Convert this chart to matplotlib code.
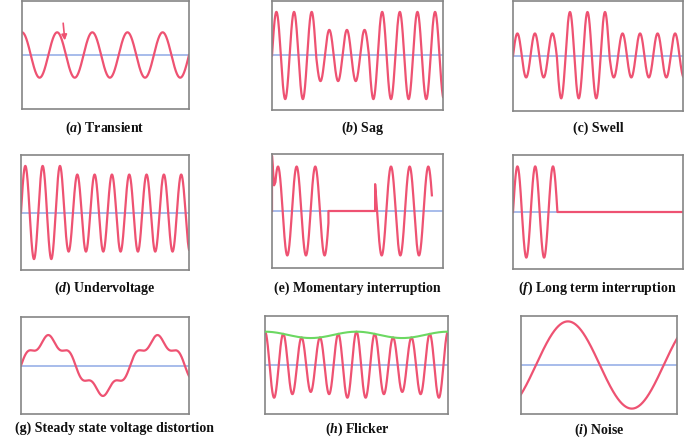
import numpy as np
import matplotlib
matplotlib.use('Agg')
import matplotlib.pyplot as plt

plt.rcParams['font.family'] = ['Liberation Serif', 'DejaVu Serif']
plt.rcParams['mathtext.fontset'] = 'custom'
plt.rcParams['mathtext.it'] = 'Liberation Serif:italic:bold'
plt.rcParams['mathtext.rm'] = 'Liberation Serif:bold'

# --- DATA (amplitudes relative to half box height) ---
panel_letters = ['a', 'b', 'c', 'd', 'e', 'f', 'g', 'h', 'i']
panel_names = ['Transient', 'Sag', 'Swell', 'Undervoltage', 'Momentary interruption',
               'Long term interruption', 'Steady state voltage distortion', 'Flicker', 'Noise']
letter_italic = [True, True, False, True, False, True, False, True, True]

# (a) transient
transient_cycles = 4.75
transient_amp = 0.42
transient_arrow_x = [0.245, 0.258]
transient_arrow_y = [0.64, 0.22]

# (b) sag, (c) swell, (d) undervoltage: amplitude of each half cycle
sag_cycles = 9.7
sag_half_amps = [0.8, 0.8, 0.8, 0.8, 0.8, 0.47, 0.47, 0.47, 0.47, 0.47, 0.47,
                 0.8, 0.8, 0.8, 0.8, 0.8, 0.8, 0.8, 0.8, 0.8]
swell_cycles = 9.7
swell_half_amps = [0.41, 0.39, 0.41, 0.39, 0.41, 0.77, 0.8, 0.77, 0.8, 0.77, 0.8,
                   0.39, 0.41, 0.39, 0.41, 0.39, 0.41, 0.39, 0.41, 0.39]
under_cycles = 9.7
under_half_amps = [0.81, 0.81, 0.81, 0.81, 0.81, 0.68, 0.66, 0.68, 0.66, 0.68,
                   0.66, 0.68, 0.66, 0.68, 0.66, 0.68, 0.66, 0.68, 0.66, 0.68]

# (e) momentary interruption
mom_period = 0.109
mom_amp = 0.78
mom_first_peak = 0.035
mom_spike_x = [0.0, 0.0, 0.012]
mom_spike_y = [0.0, 0.97, 0.45]
mom_off = 0.33
mom_on = 0.603
mom_second_peak = 0.696
mom_end = 0.935

# (f) long term interruption
long_period = 0.1045
long_amp = 0.8
long_cycles_on = 2.5

# (g) steady state distortion: harmonic order and amplitude
dist_period = 0.65
dist_orders = [1, 5]
dist_amps = [0.53, 0.098]

# (h) flicker
flick_cycles = 10
env_mean = 0.615
env_depth = 0.065
env_cycles = 2

# (i) noise
noise_period = 0.819
noise_amp = 0.89
noise_zero = 0.096

# --- LAYOUT (pixel boxes: x0, x1, y0, y1) and title centres ---
W, H = 685, 440
boxes = [(22, 189, 1, 109), (272, 443, 1, 110), (513, 683, 1, 111),
         (21, 189, 155, 270), (272, 443, 154, 268), (513, 683, 155, 269),
         (21, 189, 317, 414), (265, 448, 316, 414), (521, 677, 316, 414)]
title_pos = [(105, 128), (363, 128), (598, 128),
             (105, 288), (357, 288), (597, 288),
             (115, 428), (357, 429), (599, 430)]

RED = '#ee5272'
BLUE = '#8fa9e6'
GREEN = '#6cd862'
EDGE = '#858585'

fig = plt.figure(figsize=(W / 100, H / 100), dpi=100)
axes = []
for (x0, x1, y0, y1) in boxes:
    ax = fig.add_axes([x0 / W, 1 - y1 / H, (x1 - x0) / W, (y1 - y0) / H])
    ax.set_xlim(0, 1)
    ax.set_ylim(-1, 1)
    ax.set_xticks([])
    ax.set_yticks([])
    for s in ax.spines.values():
        s.set_color(EDGE)
        s.set_linewidth(1.2)
    ax.axhline(0, color=BLUE, lw=1.1, zorder=1)
    axes.append(ax)

x = np.linspace(0, 1, 3000)
lw = 1.6


def half_cycle_wave(cycles, half_amps):
    k = np.minimum((2 * cycles * x).astype(int), len(half_amps) - 1)
    return np.array(half_amps)[k] * np.sin(2 * np.pi * cycles * x)


# (a)
axes[0].plot(x, transient_amp * np.cos(2 * np.pi * transient_cycles * x), color=RED, lw=lw, zorder=2)
axes[0].annotate('', xy=(transient_arrow_x[1], transient_arrow_y[1]),
                 xytext=(transient_arrow_x[0], transient_arrow_y[0]),
                 arrowprops=dict(arrowstyle='-|>', color=RED, lw=1.2, mutation_scale=8))

# (b) (c) (d)
axes[1].plot(x, half_cycle_wave(sag_cycles, sag_half_amps), color=RED, lw=lw, zorder=2)
axes[2].plot(x, half_cycle_wave(swell_cycles, swell_half_amps), color=RED, lw=lw, zorder=2)
axes[3].plot(x, half_cycle_wave(under_cycles, under_half_amps), color=RED, lw=lw, zorder=2)

# (e)
xa = np.linspace(0.02, mom_off, 400)
ya = mom_amp * np.cos(2 * np.pi * (xa - mom_first_peak) / mom_period)
xb = np.linspace(mom_on, mom_end, 400)
yb = mom_amp * np.cos(2 * np.pi * (xb - mom_second_peak) / mom_period)
xe = np.concatenate([mom_spike_x, xa, [mom_off, mom_on], xb])
ye = np.concatenate([mom_spike_y, ya, [0, 0], yb])
axes[4].plot(xe, ye, color=RED, lw=lw, zorder=2)

# (f)
t_on = long_cycles_on * long_period
xf = np.concatenate([np.linspace(0, t_on, 400), [1.0]])
yf = np.concatenate([long_amp * np.sin(2 * np.pi * np.linspace(0, t_on, 400) / long_period), [0.0]])
axes[5].plot(xf, yf, color=RED, lw=lw, zorder=2)

# (g)
yg = sum(a * np.sin(2 * np.pi * k * x / dist_period) for k, a in zip(dist_orders, dist_amps))
axes[6].plot(x, yg, color=RED, lw=lw, zorder=2)

# (h)
env = env_mean + env_depth * np.cos(2 * np.pi * env_cycles * x)
axes[7].plot(x, env * np.cos(2 * np.pi * flick_cycles * x), color=RED, lw=lw, zorder=2)
axes[7].plot(x, env, color=GREEN, lw=1.5, zorder=3)

# (i)
axes[8].plot(x, noise_amp * np.sin(2 * np.pi * (x - noise_zero) / noise_period), color=RED, lw=lw, zorder=2)

# titles
for (cx, cy), letter, name, it in zip(title_pos, panel_letters, panel_names, letter_italic):
    lab = f"(${letter}$) {name}" if it else f"({letter}) {name}"
    fig.text(cx / W, 1 - cy / H, lab, ha='center', va='center',
             fontsize=10, fontweight='bold', color='#111111')

fig.savefig('out.png', dpi=100, facecolor='white')
